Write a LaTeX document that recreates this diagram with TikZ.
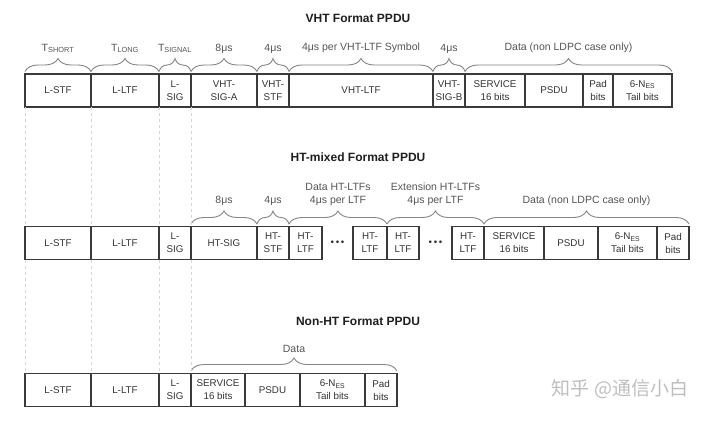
\documentclass[tikz,border=0pt]{standalone}
\usepackage{fontspec}
\setmainfont{Liberation Sans}
\newfontfamily\cjk{Noto Sans CJK SC}
\usetikzlibrary{positioning, decorations.pathreplacing}
\definecolor{framegray}{HTML}{3A3A3A}
\definecolor{bracegray}{HTML}{858585}
\definecolor{textgray}{HTML}{333333}
\definecolor{labelgray}{HTML}{555555}
\definecolor{guidegray}{HTML}{D6D6D6}
\tikzset{
x=1pt, y=-1pt, % one unit is one pixel of the layout, y runs downwards
field/.style={draw=framegray, line width=1.4pt, fill=white, minimum height=33pt, inner sep=0pt, outer sep=0pt, align=center, text=textgray, font=\fontsize{9.8}{13}\selectfont}, % one field of a PPDU
dotsgap/.style={minimum height=33pt, inner sep=0pt, outer sep=0pt, text=textgray, font=\fontsize{9.8}{13}\selectfont}, % the gap with the dots
spanbrace/.style={decorate, decoration={brace, amplitude=13pt}, draw=bracegray, line width=0.9pt}, % curly brace over the fields
spanlabel/.style={midway, above=17pt, align=center, inner sep=1pt, text=labelgray, font=\fontsize{10.5}{13}\selectfont}, % text on top of a brace
ppdutitle/.style={font=\fontsize{12}{14}\selectfont\bfseries, text=black!88}, % heading of a format
guide/.style={draw=guidegray, dashed, line width=0.8pt}, % light dashed line between the rows
}

\begin{document}
\begin{tikzpicture}
  \fill[white] (0,0) rectangle (715,421);
  \useasboundingbox (0,0) rectangle (715,421);

  \node[ppdutitle] (vtitle) at (358,18) {VHT Format PPDU};
  \node[field, minimum width=66pt, anchor=west] (vlstf) at (25,90.5) {L-STF};
  \node[field, minimum width=68pt, right=0pt of vlstf] (vlltf) {L-LTF};
  \node[field, minimum width=32pt, right=0pt of vlltf] (vlsig) {L-\\SIG};
  \node[field, minimum width=66pt, right=0pt of vlsig] (vsiga) {VHT-\\SIG-A};
  \node[field, minimum width=32pt, right=0pt of vsiga] (vstf) {VHT-\\STF};
  \node[field, minimum width=144pt, right=0pt of vstf] (vltf) {VHT-LTF};
  \node[field, minimum width=32pt, right=0pt of vltf] (vsigb) {VHT-\\SIG-B};
  \node[field, minimum width=60pt, right=0pt of vsigb] (vserv) {SERVICE\\16 bits};
  \node[field, minimum width=58pt, right=0pt of vserv] (vpsdu) {PSDU};
  \node[field, minimum width=30pt, right=0pt of vpsdu] (vpad) {Pad\\bits};
  \node[field, minimum width=59pt, right=0pt of vpad] (vtail) {6-N\textsubscript{ES}\\Tail bits};

  \draw[spanbrace] ([yshift=2.5pt]vlstf.north west) -- ([yshift=2.5pt]vlstf.north east) node[spanlabel] {T\textsubscript{SHORT}};
  \draw[spanbrace] ([yshift=2.5pt]vlltf.north west) -- ([yshift=2.5pt]vlltf.north east) node[spanlabel] {T\textsubscript{LONG}};
  \draw[spanbrace] ([yshift=2.5pt]vlsig.north west) -- ([yshift=2.5pt]vlsig.north east) node[spanlabel] {T\textsubscript{SIGNAL}};
  \draw[spanbrace] ([yshift=2.5pt]vsiga.north west) -- ([yshift=2.5pt]vsiga.north east) node[spanlabel] {8μs};
  \draw[spanbrace] ([yshift=2.5pt]vstf.north west) -- ([yshift=2.5pt]vstf.north east) node[spanlabel] {4μs};
  \draw[spanbrace] ([yshift=2.5pt]vltf.north west) -- ([yshift=2.5pt]vltf.north east) node[spanlabel] {4μs per VHT-LTF Symbol};
  \draw[spanbrace] ([yshift=2.5pt]vsigb.north west) -- ([yshift=2.5pt]vsigb.north east) node[spanlabel] {4μs};
  \draw[spanbrace] ([yshift=2.5pt]vserv.north west) -- ([yshift=2.5pt]vtail.north east) node[spanlabel] {Data (non LDPC case only)};

  \node[ppdutitle] (htitle) at (358,157) {HT-mixed Format PPDU};
  \node[field, minimum width=66pt, anchor=west] (hlstf) at (25,243) {L-STF};
  \node[field, minimum width=68pt, right=0pt of hlstf] (hlltf) {L-LTF};
  \node[field, minimum width=32pt, right=0pt of hlltf] (hlsig) {L-\\SIG};
  \node[field, minimum width=66pt, right=0pt of hlsig] (hsig) {HT-SIG};
  \node[field, minimum width=32pt, right=0pt of hsig] (hstf) {HT-\\STF};
  \node[field, minimum width=33pt, right=0pt of hstf] (hltfa) {HT-\\LTF};
  \node[dotsgap, minimum width=31pt, right=0pt of hltfa] (hdotsa) {\textbullet\,\textbullet\,\textbullet};
  \node[field, minimum width=34pt, right=0pt of hdotsa] (hltfb) {HT-\\LTF};
  \node[field, minimum width=32pt, right=0pt of hltfb] (hltfc) {HT-\\LTF};
  \node[dotsgap, minimum width=33pt, right=0pt of hltfc] (hdotsb) {\textbullet\,\textbullet\,\textbullet};
  \node[field, minimum width=32pt, right=0pt of hdotsb] (hltfd) {HT-\\LTF};
  \node[field, minimum width=60pt, right=0pt of hltfd] (hserv) {SERVICE\\16 bits};
  \node[field, minimum width=54pt, right=0pt of hserv] (hpsdu) {PSDU};
  \node[field, minimum width=59pt, right=0pt of hpsdu] (htail) {6-N\textsubscript{ES}\\Tail bits};
  \node[field, minimum width=32pt, right=0pt of htail] (hpad) {Pad\\bits};

  \draw[spanbrace] ([yshift=2.5pt]hsig.north west) -- ([yshift=2.5pt]hsig.north east) node[spanlabel] {8μs};
  \draw[spanbrace] ([yshift=2.5pt]hstf.north west) -- ([yshift=2.5pt]hstf.north east) node[spanlabel] {4μs};
  \draw[spanbrace] ([yshift=2.5pt]hltfa.north west) -- ([yshift=2.5pt]hltfb.north east) node[spanlabel] {Data HT-LTFs\\4μs per LTF};
  \draw[spanbrace] ([yshift=2.5pt]hltfc.north west) -- ([yshift=2.5pt]hltfd.north east) node[spanlabel] {Extension HT-LTFs\\4μs per LTF};
  \draw[spanbrace] ([yshift=2.5pt]hserv.north west) -- ([yshift=2.5pt]hpad.north east) node[spanlabel] {Data (non LDPC case only)};

  \node[ppdutitle] (ntitle) at (358,321) {Non-HT Format PPDU};
  \node[field, minimum width=66pt, anchor=west] (nlstf) at (25,390) {L-STF};
  \node[field, minimum width=68pt, right=0pt of nlstf] (nlltf) {L-LTF};
  \node[field, minimum width=32pt, right=0pt of nlltf] (nlsig) {L-\\SIG};
  \node[field, minimum width=54pt, right=0pt of nlsig] (nserv) {SERVICE\\16 bits};
  \node[field, minimum width=55pt, right=0pt of nserv] (npsdu) {PSDU};
  \node[field, minimum width=65pt, right=0pt of npsdu] (ntail) {6-N\textsubscript{ES}\\Tail bits};
  \node[field, minimum width=32pt, right=0pt of ntail] (npad) {Pad\\bits};

  \draw[spanbrace] ([yshift=2.5pt]nserv.north west) -- ([yshift=2.5pt]npad.north east) node[spanlabel] {Data};

  \draw[guide] (vlstf.south west) -- (hlstf.north west) (hlstf.south west) -- (nlstf.north west);
  \draw[guide] (vlltf.south west) -- (hlltf.north west) (hlltf.south west) -- (nlltf.north west);
  \draw[guide] (vlsig.south west) -- (hlsig.north west) (hlsig.south west) -- (nlsig.north west);
  \draw[guide] (vlsig.south east) -- (hlsig.north east) (hlsig.south east) -- (nlsig.north east);

  \node[text=black!25, font=\cjk\fontsize{19}{22}\selectfont] (mark) at (620,389) {知乎 @通信小白};
\end{tikzpicture}
\end{document}
